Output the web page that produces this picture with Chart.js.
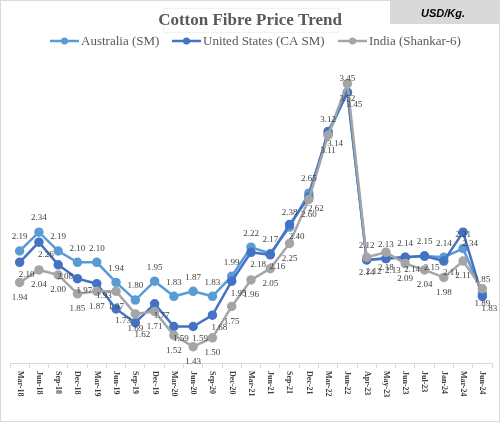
<!DOCTYPE html>
<html>
<head>
<meta charset="utf-8">
<script src="https://cdn.jsdelivr.net/npm/chart.js@4.4.1/dist/chart.umd.min.js"></script>
<style>
html,body{margin:0;padding:0;background:#fff;}
#wrap{width:500px;height:422px;position:relative;}
</style>
</head>
<body>
<div id="wrap"><canvas id="c" width="500" height="422"></canvas></div>
<script>
const categories = ["Mar-18","Jun-18","Sep-18","Dec-18","Mar-19","Jun-19","Sep-19","Dec-19","Mar-20","Jun-20","Sep-20","Dec-20","Mar-21","Jun-21","Sep-21","Dec-21","Mar-22","Jun-22","Apr-23","May-23","Jun-23","Jul-23","Jan-24","Mar-24","Jun-24"];
const australia = [2.19,2.34,2.19,2.10,2.10,1.94,1.80,1.95,1.83,1.87,1.83,1.99,2.22,2.17,2.38,2.65,3.12,3.45,2.12,2.13,2.14,2.15,2.14,2.21,1.85];
const unitedStates = [2.10,2.26,2.08,1.97,1.93,1.73,1.62,1.77,1.59,1.59,1.68,1.95,2.18,2.16,2.40,2.62,3.14,3.45,2.12,2.13,2.14,2.15,2.11,2.34,1.83];
const india = [1.94,2.04,2.00,1.85,1.87,1.87,1.69,1.71,1.52,1.43,1.50,1.75,1.96,2.05,2.25,2.60,3.11,3.52,2.14,2.18,2.09,2.04,1.98,2.11,1.89];
const seriesNames = ["Australia (SM)","United States (CA SM)","India (Shankar-6)"];
const seriesColors = ["#5B9BD5","#4472C4","#A5A5A5"];
const chartTitle = "Cotton Fibre Price Trend";
const unitText = "USD/Kg.";

const serif = "'Liberation Serif','DejaVu Serif',serif";

const labelOffsets = [[0,-14],[7,12],[0,15]];

const decor = {
  id:'decor',
  afterDatasetsDraw(chart){
    const ctx = chart.ctx;
    ctx.save();
    ctx.font = "9px " + serif;
    ctx.fillStyle = "#404040";
    ctx.textAlign = "center";
    ctx.textBaseline = "middle";
    chart.data.datasets.forEach((ds, di) => {
      const meta = chart.getDatasetMeta(di);
      meta.data.forEach((pt, i) => {
        const o = labelOffsets[di];
        ctx.fillText(ds.data[i].toFixed(2), pt.x + o[0], pt.y + o[1]);
      });
    });
    ctx.restore();
  },
  afterDraw(chart){
    const ctx = chart.ctx;
    ctx.save();
    ctx.strokeStyle = "#D9D9D9";
    ctx.lineWidth = 1;
    ctx.strokeRect(0.5,0.5,499,421);
    ctx.fillStyle = "#D9D9D9";
    ctx.fillRect(390,1,109,23);
    ctx.fillStyle = "#000";
    ctx.font = "italic bold 11px 'Liberation Sans','DejaVu Sans',sans-serif";
    ctx.textAlign = "center";
    ctx.textBaseline = "middle";
    ctx.fillText(unitText, 443, 14);
    ctx.strokeStyle = "#F2F2F2";
    ctx.strokeRect(163.5,8.5,175,24);
    ctx.fillStyle = "#595959";
    ctx.font = "bold 17px " + serif;
    ctx.fillText(chartTitle, 250, 21);
    const lx = [50,172,338];
    ctx.font = "13px " + serif;
    ctx.textAlign = "left";
    seriesNames.forEach((n,i) => {
      const x = lx[i], y = 41;
      ctx.strokeStyle = seriesColors[i];
      ctx.lineWidth = 2.5;
      ctx.beginPath(); ctx.moveTo(x,y); ctx.lineTo(x+29,y); ctx.stroke();
      ctx.fillStyle = seriesColors[i];
      ctx.beginPath(); ctx.arc(x+14.5,y,3.5,0,Math.PI*2); ctx.fill();
      ctx.fillStyle = "#595959";
      ctx.fillText(n, x+31, y+1);
    });
    const xs = chart.scales.x;
    ctx.font = "bold 8px " + serif;
    ctx.fillStyle = "#404040";
    ctx.textAlign = "left";
    ctx.textBaseline = "middle";
    categories.forEach((c,i) => {
      const px = xs.getPixelForValue(i);
      ctx.save();
      ctx.translate(px, xs.bottom + 3);
      ctx.rotate(Math.PI/2);
      ctx.fillText(c, 0, 0);
      ctx.restore();
    });
    ctx.restore();
  }
};

const ds = [australia, unitedStates, india].map((d,i) => ({
  label: seriesNames[i],
  data: d,
  order: 3 - i,
  borderColor: seriesColors[i],
  backgroundColor: seriesColors[i],
  pointBackgroundColor: seriesColors[i],
  pointBorderColor: seriesColors[i],
  borderWidth: 2.5,
  pointRadius: 3.5,
  tension: 0
}));

new Chart(document.getElementById('c'), {
  type: 'line',
  data: { labels: categories, datasets: ds },
  options: {
    responsive: false,
    animation: false,
    layout: { padding: { top: 61, bottom: 54, left: 10, right: 8 } },
    plugins: { legend: { display: false }, title: { display: false }, tooltip: { enabled: false } },
    scales: {
      x: {
        offset: true,
        grid: { display: true, drawOnChartArea: false, offset: true, tickLength: 5, color: "#D9D9D9" },
        border: { display: true, color: "#D9D9D9" },
        ticks: { display: false }
      },
      y: {
        display: false,
        min: 1.3,
        max: 3.7
      }
    }
  },
  plugins: [decor]
});
</script>
</body>
</html>
